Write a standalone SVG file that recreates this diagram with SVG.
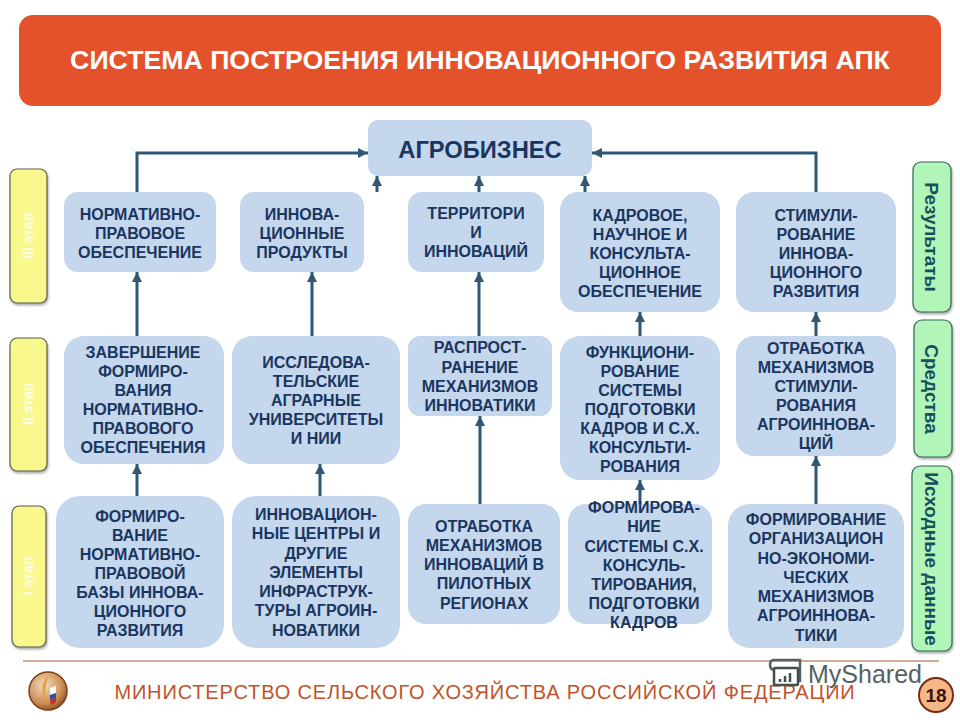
<svg xmlns="http://www.w3.org/2000/svg" width="960" height="720" viewBox="0 0 960 720">
<style>
.n{fill:#c5d7ec}
.t{font-family:"Liberation Sans",Arial,sans-serif;font-size:16px;font-weight:bold;fill:#1a3660;text-anchor:middle;transform:translateY(.7px)}
.c{fill:none;stroke:#2f5877;stroke-width:3}
.y{fill:#f8f88c;stroke:#5a6050;stroke-width:1.2;filter:url(#s)}
.g{fill:#b2f5b8;stroke:#2f6658;stroke-width:1.2;filter:url(#s)}
.yt{font-family:"Liberation Sans",Arial,sans-serif;font-size:14px;font-weight:bold;fill:#fefee8;text-anchor:middle}
.gt{font-family:"Liberation Sans",Arial,sans-serif;font-size:19px;font-weight:bold;fill:#17505c;text-anchor:middle}
</style>
<defs>
<marker id="a" markerUnits="userSpaceOnUse" markerWidth="12" markerHeight="12" refX="10" refY="5" orient="auto"><path d="M0 0L10 5L0 10z" fill="#2f5877"/></marker>
<radialGradient id="e" cx=".4" cy=".35" r=".7"><stop offset="0" stop-color="#f3dcc0"/><stop offset=".7" stop-color="#c98a50"/><stop offset="1" stop-color="#8a4a1c"/></radialGradient>
<filter id="s" x="-20%" y="-10%" width="140%" height="120%"><feDropShadow dx="1" dy="2" stdDeviation="1" flood-color="#777" flood-opacity=".6"/></filter>
</defs>
<rect width="960" height="720" fill="#fff"/>
<g id="title"><rect x="19" y="15" width="922" height="91" rx="14" fill="#e4522b"/>
<text x="480" y="69" font-family="Liberation Sans,Arial,sans-serif" font-size="26.7px" font-weight="bold" fill="#fff" text-anchor="middle">СИСТЕМА ПОСТРОЕНИЯ ИННОВАЦИОННОГО РАЗВИТИЯ АПК</text></g>
<g id="connectors">
<path class="c" marker-end="url(#a)" d="M137 192V153H368"/>
<path class="c" marker-end="url(#a)" d="M816 192V153H592"/>
<path class="c" marker-end="url(#a)" d="M377 192V176"/>
<path class="c" marker-end="url(#a)" d="M479 192V176"/>
<path class="c" marker-end="url(#a)" d="M585 192V176"/>
<path class="c" marker-end="url(#a)" d="M137 336V272"/>
<path class="c" marker-end="url(#a)" d="M312 336V272"/>
<path class="c" marker-end="url(#a)" d="M479 336V272"/>
<path class="c" marker-end="url(#a)" d="M640 336V312"/>
<path class="c" marker-end="url(#a)" d="M816 336V312"/>
<path class="c" marker-end="url(#a)" d="M137 496V464"/>
<path class="c" marker-end="url(#a)" d="M320 496V464"/>
<path class="c" marker-end="url(#a)" d="M480 504V416"/>
<path class="c" marker-end="url(#a)" d="M640 504V480"/>
<path class="c" marker-end="url(#a)" d="M816 504V456"/>
</g>
<g id="top"><rect class="n" x="368" y="120" width="224" height="56" rx="10"/><text x="480" y="157" class="t" style="font-size:23.7px">АГРОБИЗНЕС</text></g>
<g id="n1"><rect class="n" x="64" y="192" width="152" height="80" rx="14"/><text class="t"><tspan x="140" y="219">НОРМАТИВНО-</tspan><tspan x="140" y="238">ПРАВОВОЕ</tspan><tspan x="140" y="257">ОБЕСПЕЧЕНИЕ</tspan></text></g>
<g id="n2"><rect class="n" x="240" y="192" width="124" height="80" rx="14"/><text class="t"><tspan x="302" y="219">ИННОВА-</tspan><tspan x="302" y="238">ЦИОННЫЕ</tspan><tspan x="302" y="257">ПРОДУКТЫ</tspan></text></g>
<g id="n3"><rect class="n" x="408" y="192" width="136" height="80" rx="14"/><text class="t"><tspan x="476" y="218">ТЕРРИТОРИ</tspan><tspan x="476" y="237">И</tspan><tspan x="476" y="256">ИННОВАЦИЙ</tspan></text></g>
<g id="n4"><rect class="n" x="560" y="192" width="160" height="120" rx="18"/><text class="t"><tspan x="640" y="220">КАДРОВОЕ,</tspan><tspan x="640" y="239">НАУЧНОЕ И</tspan><tspan x="640" y="258">КОНСУЛЬТА-</tspan><tspan x="640" y="277">ЦИОННОЕ</tspan><tspan x="640" y="296">ОБЕСПЕЧЕНИЕ</tspan></text></g>
<g id="n5"><rect class="n" x="736" y="192" width="160" height="120" rx="18"/><text class="t"><tspan x="816" y="220">СТИМУЛИ-</tspan><tspan x="816" y="239">РОВАНИЕ</tspan><tspan x="816" y="258">ИННОВА-</tspan><tspan x="816" y="277">ЦИОННОГО</tspan><tspan x="816" y="296">РАЗВИТИЯ</tspan></text></g>
<g id="m1"><rect class="n" x="64" y="336" width="160" height="128" rx="20"/><text class="t"><tspan x="143" y="357">ЗАВЕРШЕНИЕ</tspan><tspan x="143" y="376">ФОРМИРО-</tspan><tspan x="143" y="395">ВАНИЯ</tspan><tspan x="143" y="414">НОРМАТИВНО-</tspan><tspan x="143" y="433">ПРАВОВОГО</tspan><tspan x="143" y="452">ОБЕСПЕЧЕНИЯ</tspan></text></g>
<g id="m2"><rect class="n" x="232" y="336" width="168" height="128" rx="20"/><text class="t"><tspan x="316" y="367">ИССЛЕДОВА-</tspan><tspan x="316" y="386">ТЕЛЬСКИЕ</tspan><tspan x="316" y="405">АГРАРНЫЕ</tspan><tspan x="316" y="424">УНИВЕРСИТЕТЫ</tspan><tspan x="316" y="443">И НИИ</tspan></text></g>
<g id="m3"><rect class="n" x="408" y="336" width="144" height="80" rx="12"/><text class="t"><tspan x="480" y="352">РАСПРОСТ-</tspan><tspan x="480" y="372">РАНЕНИЕ</tspan><tspan x="480" y="391">МЕХАНИЗМОВ</tspan><tspan x="480" y="410">ИННОВАТИКИ</tspan></text></g>
<g id="m4"><rect class="n" x="560" y="336" width="160" height="144" rx="20"/><text class="t"><tspan x="640" y="357">ФУНКЦИОНИ-</tspan><tspan x="640" y="376">РОВАНИЕ</tspan><tspan x="640" y="395">СИСТЕМЫ</tspan><tspan x="640" y="414">ПОДГОТОВКИ</tspan><tspan x="640" y="433">КАДРОВ И С.Х.</tspan><tspan x="640" y="452">КОНСУЛЬТИ-</tspan><tspan x="640" y="471">РОВАНИЯ</tspan></text></g>
<g id="m5"><rect class="n" x="736" y="336" width="160" height="120" rx="18"/><text class="t"><tspan x="816" y="353">ОТРАБОТКА</tspan><tspan x="816" y="372">МЕХАНИЗМОВ</tspan><tspan x="816" y="391">СТИМУЛИ-</tspan><tspan x="816" y="410">РОВАНИЯ</tspan><tspan x="816" y="429">АГРОИННОВА-</tspan><tspan x="816" y="448">ЦИЙ</tspan></text></g>
<g id="b1"><rect class="n" x="56" y="496" width="168" height="152" rx="24"/><text class="t"><tspan x="140" y="521">ФОРМИРО-</tspan><tspan x="140" y="540">ВАНИЕ</tspan><tspan x="140" y="559">НОРМАТИВНО-</tspan><tspan x="140" y="578">ПРАВОВОЙ</tspan><tspan x="140" y="597">БАЗЫ ИННОВА-</tspan><tspan x="140" y="616">ЦИОННОГО</tspan><tspan x="140" y="635">РАЗВИТИЯ</tspan></text></g>
<g id="b2"><rect class="n" x="232" y="496" width="168" height="152" rx="24"/><text class="t"><tspan x="316" y="519">ИННОВАЦИОН-</tspan><tspan x="316" y="538">НЫЕ ЦЕНТРЫ И</tspan><tspan x="316" y="558">ДРУГИЕ</tspan><tspan x="316" y="577">ЭЛЕМЕНТЫ</tspan><tspan x="316" y="596">ИНФРАСТРУК-</tspan><tspan x="316" y="615">ТУРЫ АГРОИН-</tspan><tspan x="316" y="635">НОВАТИКИ</tspan></text></g>
<g id="b3"><rect class="n" x="408" y="504" width="152" height="120" rx="18"/><text class="t"><tspan x="484" y="531">ОТРАБОТКА</tspan><tspan x="484" y="550">МЕХАНИЗМОВ</tspan><tspan x="484" y="569">ИННОВАЦИЙ В</tspan><tspan x="484" y="588">ПИЛОТНЫХ</tspan><tspan x="484" y="608">РЕГИОНАХ</tspan></text></g>
<g id="b4"><rect class="n" x="568" y="504" width="144" height="120" rx="18"/><text class="t"><tspan x="644" y="512">ФОРМИРОВА-</tspan><tspan x="644" y="531">НИЕ</tspan><tspan x="644" y="551">СИСТЕМЫ С.Х.</tspan><tspan x="644" y="570">КОНСУЛЬ-</tspan><tspan x="644" y="589">ТИРОВАНИЯ,</tspan><tspan x="644" y="608">ПОДГОТОВКИ</tspan><tspan x="644" y="627">КАДРОВ</tspan></text></g>
<g id="b5"><rect class="n" x="728" y="504" width="176" height="144" rx="22"/><text class="t"><tspan x="816" y="524">ФОРМИРОВАНИЕ</tspan><tspan x="816" y="543">ОРГАНИЗАЦИОН</tspan><tspan x="816" y="563">НО-ЭКОНОМИ-</tspan><tspan x="816" y="582">ЧЕСКИХ</tspan><tspan x="816" y="601">МЕХАНИЗМОВ</tspan><tspan x="816" y="620">АГРОИННОВА-</tspan><tspan x="816" y="640">ТИКИ</tspan></text></g>
<g id="s1"><rect class="y" x="10" y="169" width="37" height="134" rx="7"/><text class="yt" transform="translate(33 236) rotate(-90)">III этап</text></g>
<g id="s2"><rect class="y" x="10" y="338" width="37" height="133" rx="7"/><text class="yt" transform="translate(33 404) rotate(-90)">II этап</text></g>
<g id="s3"><rect class="y" x="12" y="506" width="34" height="141" rx="7"/><text class="yt" transform="translate(33 576) rotate(-90)">I этап</text></g>
<g id="r1"><rect class="g" x="913" y="162" width="38" height="150" rx="8"/><text class="gt" transform="translate(925 237) rotate(90)">Результаты</text></g>
<g id="r2"><rect class="g" x="914" y="320" width="38" height="137" rx="8"/><text class="gt" transform="translate(925 389) rotate(90)">Средства</text></g>
<g id="r3"><rect class="g" x="912" y="466" width="40" height="185" rx="8"/><text class="gt" transform="translate(925 559) rotate(90)">Исходные данные</text></g>
<g id="footer"><path d="M23 661H939" stroke="#a85a30" stroke-width="1.2"/>
<circle cx="48" cy="691" r="19" fill="url(#e)" stroke="#7a4018" stroke-width="1.5"/>
<path d="M49 675C40 682 41 695 48 706C44 695 45 685 49 675Z" fill="#e9a040"/>
<path d="M50 688L56 686V693L50 695Z" fill="#fff"/><path d="M50 695L56 693V698L50 700Z" fill="#3050a0"/><path d="M50 700L56 698V702L51 705Z" fill="#c03030"/>
<text x="485" y="699" font-family="Liberation Sans,Arial,sans-serif" font-size="20px" fill="#c0532a" text-anchor="middle" letter-spacing=".85">МИНИСТЕРСТВО СЕЛЬСКОГО ХОЗЯЙСТВА РОССИЙСКОЙ ФЕДЕРАЦИИ</text>
<circle cx="936" cy="695" r="17" fill="#f4b888" stroke="#7a2a10" stroke-width="2"/>
<text x="936" y="702" font-family="Liberation Sans,Arial,sans-serif" font-size="19px" font-weight="bold" fill="#3a1208" text-anchor="middle">18</text></g>
<g id="watermark"><path d="M773 660H800V682M773 660C769 661 769 668 773 670" fill="none" stroke="#56625f" stroke-width="2.5"/><rect x="774" y="668" width="24" height="17" rx="1" fill="none" stroke="#3f4f4c" stroke-width="2.5"/><path d="M780 682v-3M785 682v-6M790 682v-9" stroke="#3f4f4c" stroke-width="2.5"/>
<text x="808" y="683" font-family="Liberation Sans,sans-serif" font-size="25px" fill="#56625f">MyShared</text></g>
</svg>
